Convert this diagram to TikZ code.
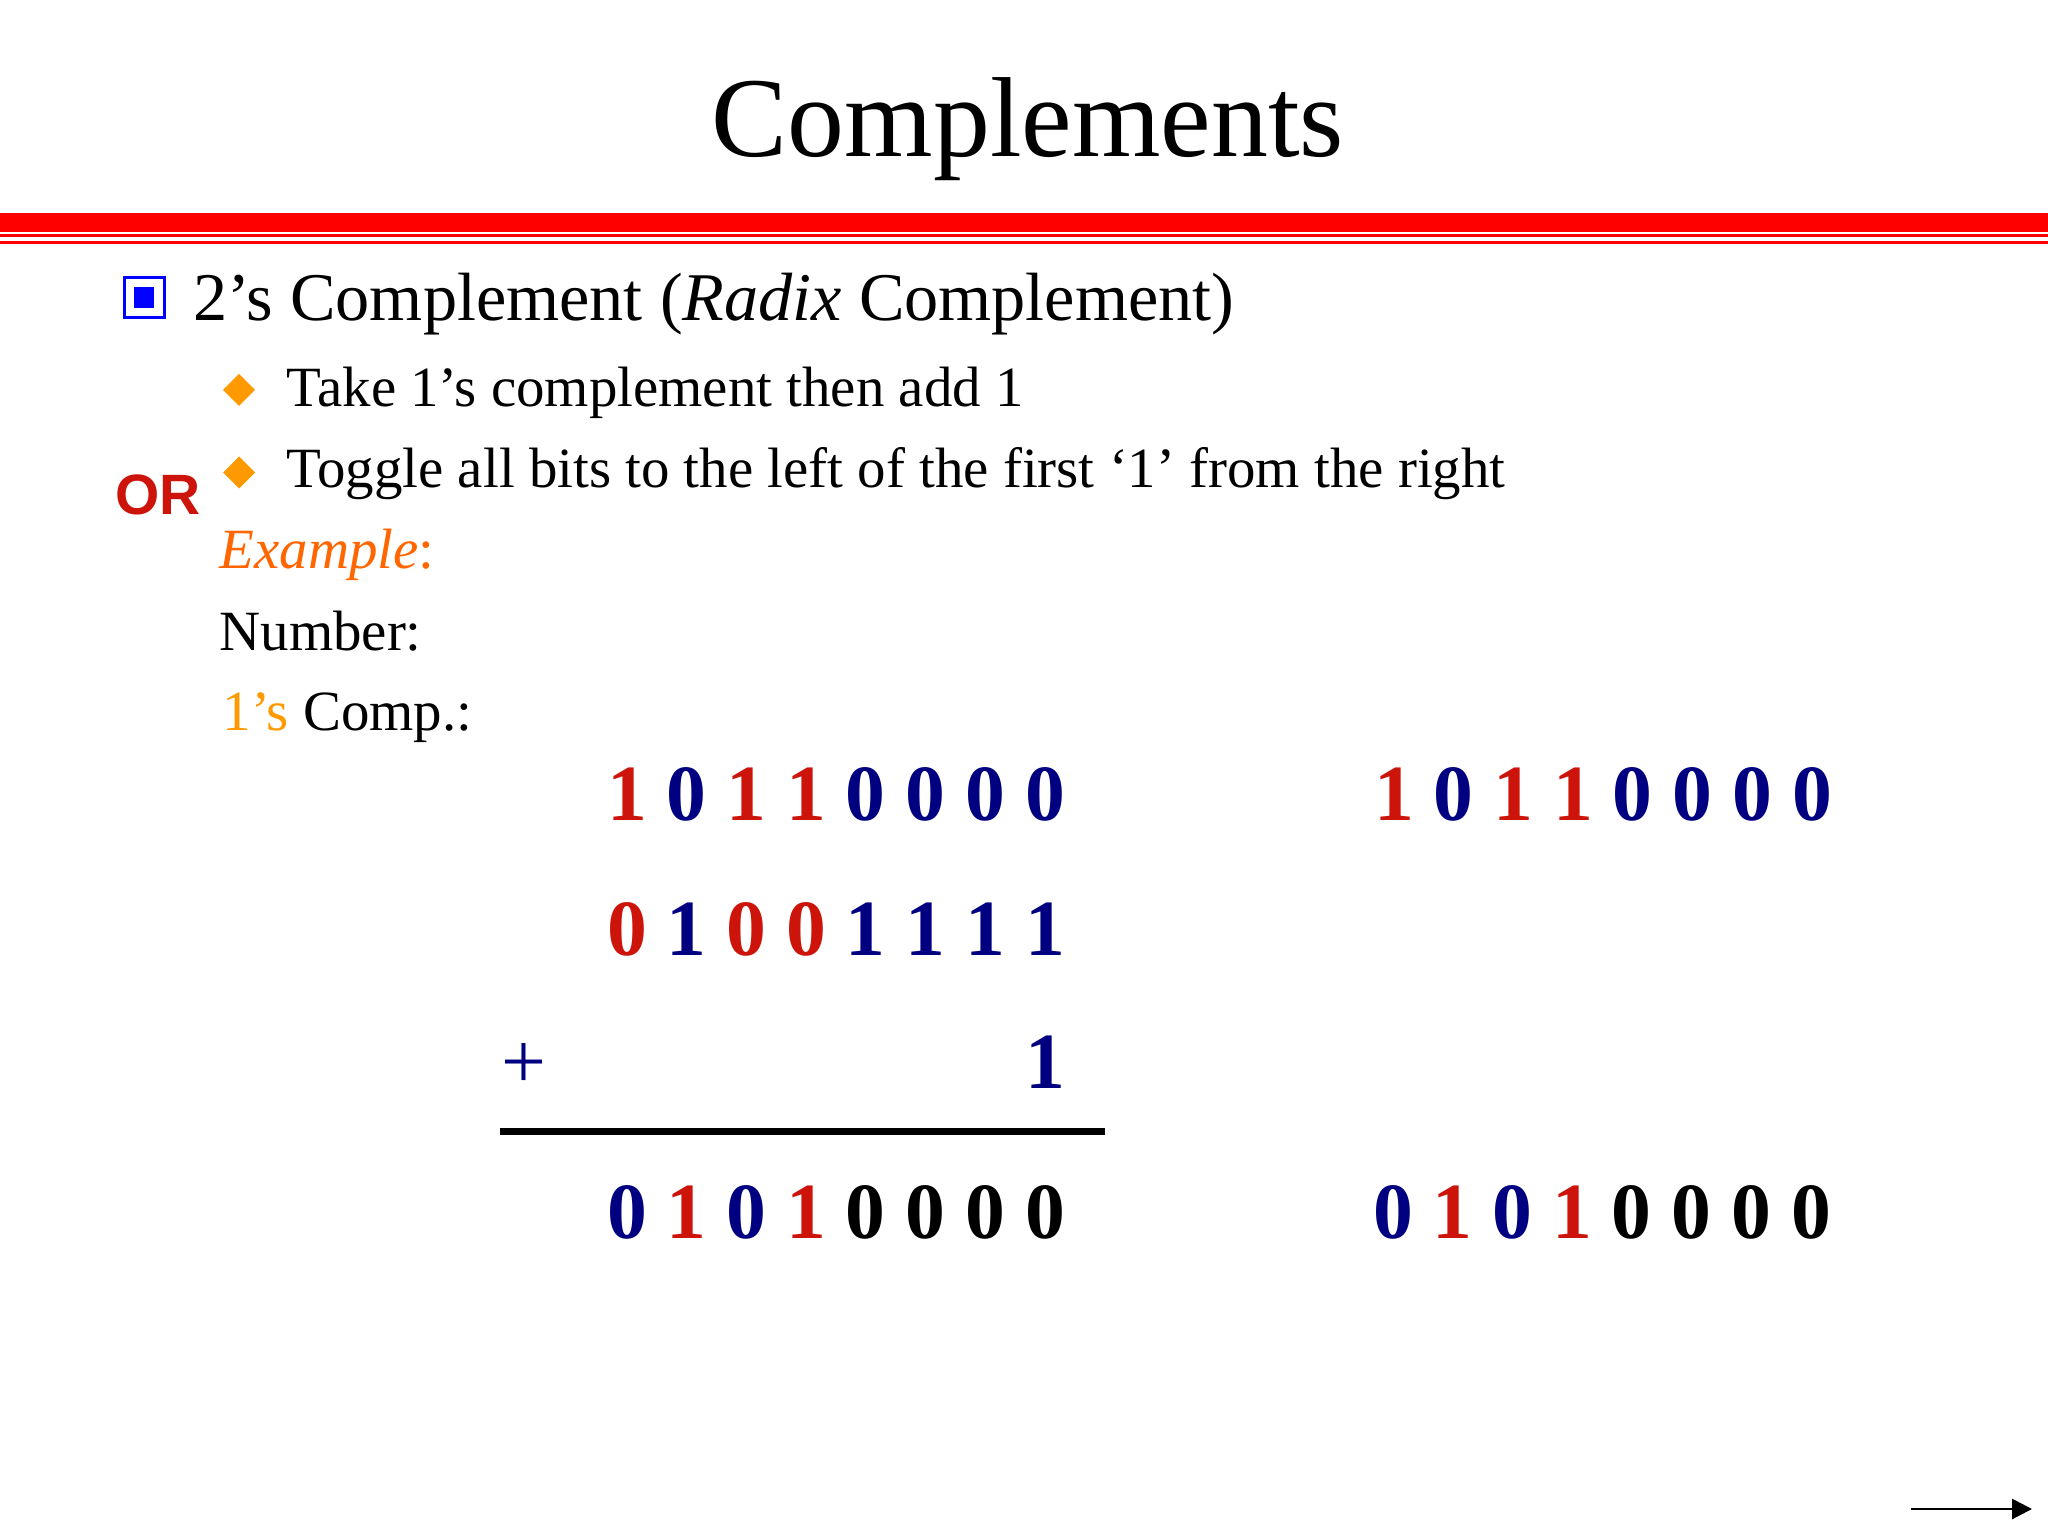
\documentclass[tikz,border=0pt]{standalone}
\usepackage{fontspec}
\setmainfont{Liberation Serif}
\newfontfamily\arialfont{Liberation Sans}
\usetikzlibrary{arrows.meta}
\definecolor{barred}{RGB}{255,0,0}
\definecolor{digred}{RGB}{204,20,10}
\definecolor{navy}{RGB}{0,0,128}
\definecolor{bulletblue}{RGB}{0,0,255}
\definecolor{dorange}{RGB}{255,153,0}
\definecolor{exorange}{RGB}{255,102,0}
\begin{document}
\begin{tikzpicture}[x={(0.35156pt,0)}, y={(0,-0.35156pt)},
  txt/.style={inner sep=0pt, anchor=base west},
  lvlone/.style={txt, font=\fontsize{24}{28}\selectfont},
  lvltwo/.style={txt, font=\fontsize{20}{24}\selectfont},
  digit/.style={inner sep=0pt, anchor=base, font=\fontsize{28}{32}\selectfont\bfseries},
  diam/.style={fill=dorange}]
\fill[white] (0,0) rectangle (2048,1536);
\useasboundingbox (0,0) rectangle (2048,1536);
% title and bars
\node[inner sep=0pt, anchor=base, font=\fontsize{40}{44}\selectfont] (title) at (1028,157) {Complements};
\fill[barred] (0,213.5) rectangle (2048,232);
\fill[barred] (0,234.5) rectangle (2048,237);
\fill[barred] (0,241.5) rectangle (2048,244);
% bullet
\draw[bulletblue, line width=1.05pt] (124.5,277.5) rectangle (164.5,317.5);
\fill[bulletblue] (134,287) rectangle (154,308);
\node[lvlone] (head) at (193,321) {2’s Complement (\textit{Radix} Complement)};
% sub bullets
\fill[diam] (239,374) -- (255,390) -- (239,406) -- (223,390) -- cycle;
\fill[diam] (239,456.5) -- (255,472.5) -- (239,488.5) -- (223,472.5) -- cycle;
\node[lvltwo] (b1) at (286,407) {Take 1’s complement then add 1};
\node[lvltwo] (b2) at (286,488) {Toggle all bits to the left of the first ‘1’ from the right};
\node[txt, font=\arialfont\bfseries\fontsize{20}{24}\selectfont, text=digred] (or) at (115,515) {OR};
\node[lvltwo, text=exorange] (ex) at (219,569) {\textit{Example}:};
\node[lvltwo] (num) at (219,650) {Number:};
\node[lvltwo] (oc) at (222,731) {\textcolor{dorange}{1’s} Comp.:};
% left column
\foreach \d/\c [count=\i from 0] in {1/digred,0/navy,1/digred,1/digred,0/navy,0/navy,0/navy,0/navy}
  \node[digit, text=\c] (la\i) at ({627+59.7*\i},820) {\d};
\foreach \d/\c [count=\i from 0] in {0/digred,1/navy,0/digred,0/digred,1/navy,1/navy,1/navy,1/navy}
  \node[digit, text=\c] (lb\i) at ({627+59.7*\i},955) {\d};
\node[inner sep=0pt, anchor=base, font=\fontsize{28}{32}\selectfont, text=navy] (plus) at (524,1088) {+};
\node[digit, text=navy] (one) at ({627+59.7*7},1088) {1};
\coordinate (ruleA) at (500,1131);
\coordinate (ruleB) at (1105,1131);
\draw[line width=2.46pt] (ruleA) -- (ruleB);
\foreach \d/\c [count=\i from 0] in {0/navy,1/digred,0/navy,1/digred,0/black,0/black,0/black,0/black}
  \node[digit, text=\c] (lc\i) at ({627+59.7*\i},1238) {\d};
% right column
\foreach \d/\c [count=\i from 0] in {1/digred,0/navy,1/digred,1/digred,0/navy,0/navy,0/navy,0/navy}
  \node[digit, text=\c] (ra\i) at ({1394+59.7*\i},820) {\d};
\foreach \d/\c [count=\i from 0] in {0/navy,1/digred,0/navy,1/digred,0/black,0/black,0/black,0/black}
  \node[digit, text=\c] (rc\i) at ({1393+59.7*\i},1238) {\d};
% arrow
\coordinate (arrA) at (1911,1509);
\coordinate (arrB) at (2032,1509);
\draw[line width=1pt, -{Triangle[length=7pt,width=7pt]}] (arrA) -- (arrB);
\end{tikzpicture}
\end{document}
